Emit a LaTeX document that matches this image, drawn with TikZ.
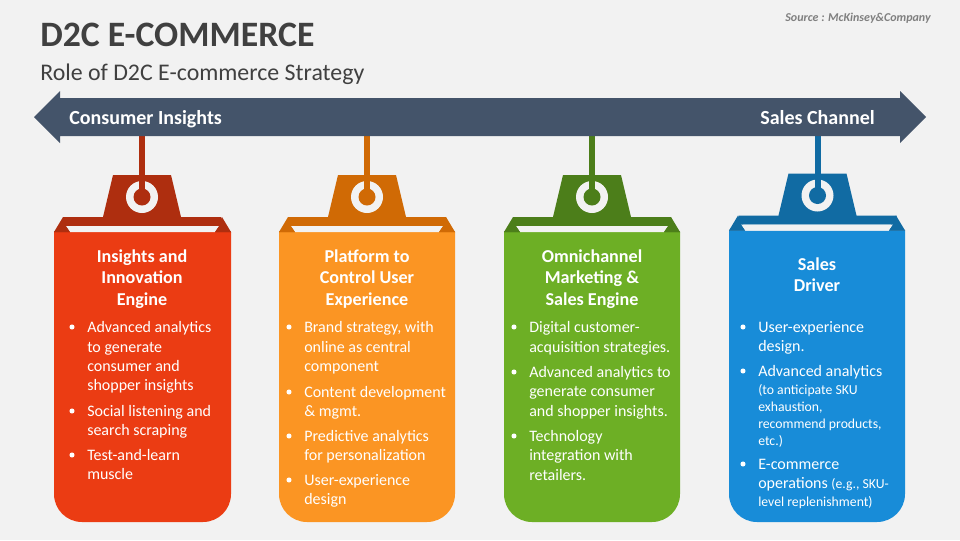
\documentclass[tikz,border=0pt]{standalone}
\usepackage{fontspec}
\setmainfont{Carlito}
\usetikzlibrary{calc}
\definecolor{bgc}{HTML}{F2F2F2}
\definecolor{barc}{HTML}{44546A}
\definecolor{ink}{HTML}{404040}
\definecolor{srcc}{HTML}{7F7F7F}
\definecolor{ca}{HTML}{EB3C13}\definecolor{da}{HTML}{AE2E0F}
\definecolor{cb}{HTML}{FB9523}\definecolor{db}{HTML}{D06A05}
\definecolor{cc}{HTML}{6DAF25}\definecolor{dc}{HTML}{4C7E1A}
\definecolor{cd}{HTML}{188CD8}\definecolor{dd}{HTML}{116BA3}
\newcommand{\sml}{\fontsize{10.3}{12.8}\selectfont}
\tikzset{
  x=0.75pt,y=-0.75pt,
  heading/.style={text=white,font=\bfseries\fontsize{13.6}{16.2}\selectfont,align=center,inner sep=0pt,anchor=center},
  bodytext/.style={text=white,font=\fontsize{12}{14.5}\selectfont,align=left,inner sep=0pt,anchor=north west},
  dotmark/.style={circle,fill=white,inner sep=0pt,minimum size=3.8pt},
  barlabel/.style={text=white,font=\bfseries\fontsize{15}{16}\selectfont,inner sep=0pt},
}
% #1 name #2 center x #3 left #4 right #5 fill #6 dark #7 y offset of hanger
\newcommand{\tagcard}[7]{%
  \fill[#5] (#3,232+#7) -- (#4,232+#7) -- (#4,494) arc[start angle=0,end angle=90,radius=28] -- (#3+28,522) arc[start angle=90,end angle=180,radius=28] -- cycle;
  \fill[#6] (#2-29,175+#7) -- (#2+29,175+#7) -- (#2+39,217+#7) -- (#2+79,217+#7) -- (#2+79,226+#7) -- (#2-79,226+#7) -- (#2-79,217+#7) -- (#2-39,217+#7) -- cycle;
  \fill[#6] (#3,232+#7) -- (#3+9,217+#7) -- (#3+14,226+#7) -- (#3+16,232+#7) -- cycle;
  \fill[#6] (#4,232+#7) -- (#4-9,217+#7) -- (#4-14,226+#7) -- (#4-16,232+#7) -- cycle;
  \fill[bgc] (#3+12,226+#7) -- (#4-12,226+#7) -- (#4-16,232+#7) -- (#3+16,232+#7) -- cycle;
  \fill[#6] (#3,232+#7) -- (#3+16,232+#7) -- (#3+9,222+#7) -- cycle;
  \fill[#6] (#4,232+#7) -- (#4-16,232+#7) -- (#4-9,222+#7) -- cycle;
  \fill[bgc] (#2,197+#7) circle[radius=16];
  \fill[#6] (#2,197+#7) circle[radius=8.5];
  \coordinate (#1hole) at (#2,197+#7);
  \coordinate (#1top) at (#2,136);
  \draw[#6,line width=4.5pt] (#1top) -- (#1hole);
}
\begin{document}
\begin{tikzpicture}
\useasboundingbox (0,0) rectangle (960,540);
\fill[bgc] (0,0) rectangle (960,540);

\node[text=ink,font=\bfseries\fontsize{26.8}{30}\selectfont,inner sep=0pt,anchor=base west] (title) at (40,46) {D2C E-COMMERCE};
\node[text=ink,font=\fontsize{17.9}{20}\selectfont,inner sep=0pt,anchor=base west] (sub) at (40,80) {Role of D2C E-commerce Strategy};
\node[text=srcc,font=\bfseries\itshape\fontsize{9}{10}\selectfont,inner sep=0pt,anchor=base east] (src) at (931,21) {Source : McKinsey\&Company};

\tagcard{a}{142}{54}{231}{ca}{da}{0}
\tagcard{b}{367}{279}{455}{cb}{db}{0}
\tagcard{c}{592}{504}{680}{cc}{dc}{0}
\tagcard{d}{817.5}{729}{905}{cd}{dd}{-1.5}

\fill[barc] (34,117) -- (60,91) -- (60,98) -- (900,98) -- (900,91) -- (926,117) -- (900,143) -- (900,136) -- (60,136) -- (60,143) -- cycle;
\node[barlabel,anchor=base west] (left) at (69,124.5) {Consumer Insights};
\node[barlabel,anchor=base east] (right) at (875,124.5) {Sales Channel};

% card 1
\node[heading] (ha) at (142,279) {Insights and\\Innovation\\Engine};
\node[dotmark] at (72,327) {};\node[dotmark] at (72,411) {};\node[dotmark] at (72,455) {};
\node[bodytext] (a1) at (87,321.5) {Advanced analytics\\to generate\\consumer and\\shopper insights};
\node[bodytext] (a2) at (87,405) {Social listening and\\search scraping};
\node[bodytext] (a3) at (87,449) {Test-and-learn\\muscle};

% card 2
\node[heading] (hb) at (367,279) {Platform to\\Control User\\Experience};
\node[dotmark] at (289,327) {};\node[dotmark] at (289,392) {};\node[dotmark] at (289,436) {};\node[dotmark] at (289,480) {};
\node[bodytext] (b1) at (304,321.5) {Brand strategy, with\\online as central\\component};
\node[bodytext] (b2) at (304,386) {Content development\\\& mgmt.};
\node[bodytext] (b3) at (304,430) {Predictive analytics\\for personalization};
\node[bodytext] (b4) at (304,474) {User-experience\\design};

% card 3
\node[heading] (hc) at (592,279) {Omnichannel\\Marketing \&\\Sales Engine};
\node[dotmark] at (514,327) {};\node[dotmark] at (514,372) {};\node[dotmark] at (514,436) {};
\node[bodytext] (c1) at (529,321.5) {Digital customer-\\acquisition strategies.};
\node[bodytext] (c2) at (529,366) {Advanced analytics to\\generate consumer\\and shopper insights.};
\node[bodytext] (c3) at (529,430) {Technology\\integration with\\retailers.};

% card 4
\node[heading] (hd) at (817,274.5) {Sales\\Driver};
\node[dotmark] at (743,327) {};\node[dotmark] at (743,371) {};\node[dotmark] at (743,464) {};
\node[bodytext] (d1) at (758,321) {User-experience\\design.};
\node[bodytext] (d2) at (758,365) {Advanced analytics\\[-1.1pt]{\sml (to anticipate SKU}\\[-1.8pt]{\sml exhaustion,}\\[-1.8pt]{\sml recommend products,}\\[-1.8pt]{\sml etc.)}};
\node[bodytext] (d3) at (758,459) {E-commerce\\operations {\sml (e.g., SKU-}\\[-1pt]{\sml level replenishment)}};
\end{tikzpicture}
\end{document}
